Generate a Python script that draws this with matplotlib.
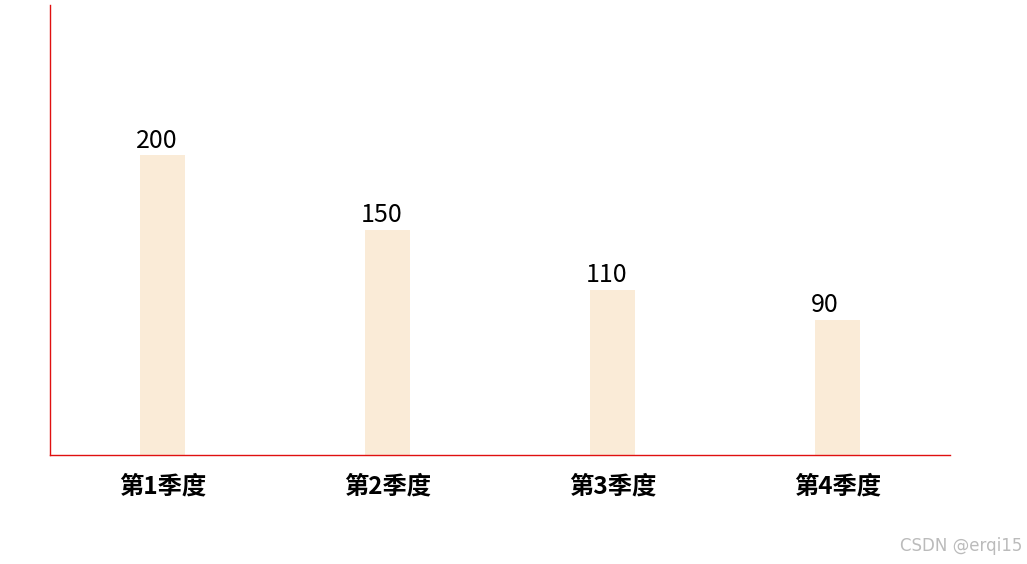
import matplotlib
matplotlib.use('Agg')
import matplotlib.pyplot as plt

plt.rcParams['font.family'] = ['Noto Sans CJK SC', 'DejaVu Sans']

quarters = ['第1季度', '第2季度', '第3季度', '第4季度']
sales = [200, 150, 110, 90]

W, H = 1027, 564
fig = plt.figure(figsize=(W / 100, H / 100), dpi=100)
ax = fig.add_axes([50 / W, 109 / H, 900 / W, 450 / H])

x = range(len(quarters))
bars = ax.bar(x, sales, width=0.2, color='#FAEBD7')
for b, v in zip(bars, sales):
    ax.text(b.get_x() - 0.02, v + 1, str(v), ha='left', va='bottom', fontsize=18, color='black')

ax.set_xlim(-0.5, 3.5)
ax.set_ylim(0, 300)
ax.set_xticks(list(x))
ax.set_xticklabels(quarters, fontsize=17.5, fontweight='bold')
ax.tick_params(axis='x', length=0, pad=14)
ax.set_yticks([])
for s in ['top', 'right']:
    ax.spines[s].set_visible(False)
for s in ['left', 'bottom']:
    ax.spines[s].set_color('#e01010')
    ax.spines[s].set_linewidth(1.0)

fig.text(1022 / W, 1 - 546 / H, 'CSDN @erqi15', ha='right', va='center',
         fontsize=12, color='#bbbbbb', family=['DejaVu Sans'])

fig.savefig('out.png', dpi=100)
